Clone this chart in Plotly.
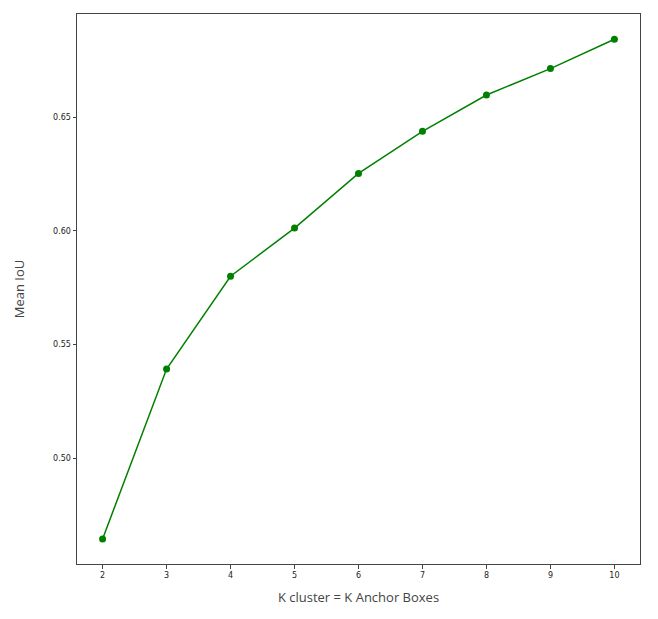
import plotly.graph_objects as go

k_clusters = [2, 3, 4, 5, 6, 7, 8, 9, 10]
mean_iou = [0.4645, 0.5392, 0.5800, 0.6012, 0.6252, 0.6437, 0.6597, 0.6713, 0.6842]
x_ticks = [2, 3, 4, 5, 6, 7, 8, 9, 10]
y_ticks = [0.50, 0.55, 0.60, 0.65]
y_tick_labels = ["0.50", "0.55", "0.60", "0.65"]

fig = go.Figure()
fig.add_trace(go.Scatter(
    x=k_clusters, y=mean_iou, mode="lines+markers",
    line=dict(color="#008000", width=1.5),
    marker=dict(color="#008000", size=7),
    showlegend=False,
))

axis_common = dict(
    showline=True, linecolor="#444444", linewidth=1, mirror=True,
    showgrid=False, zeroline=False,
    ticks="outside", ticklen=3.5, tickwidth=1, tickcolor="#444444",
    tickfont=dict(family="DejaVu Sans", size=8, color="#222222"),
)

fig.update_layout(
    width=658, height=619,
    margin=dict(l=69, r=26, t=6, b=63),
    paper_bgcolor="white", plot_bgcolor="white",
    xaxis=dict(
        range=[1.6, 10.4], tickmode="array", tickvals=x_ticks,
        title=dict(text="K cluster = K Anchor Boxes", standoff=13,
                   font=dict(family="Open Sans", size=13, color="#444444")),
        **axis_common,
    ),
    yaxis=dict(
        range=[0.4535, 0.6953], tickmode="array", tickvals=y_ticks,
        ticktext=y_tick_labels,
        title=dict(text="Mean IoU", standoff=25,
                   font=dict(family="Open Sans", size=13, color="#444444")),
        **axis_common,
    ),
)

fig.write_html("out.html")
